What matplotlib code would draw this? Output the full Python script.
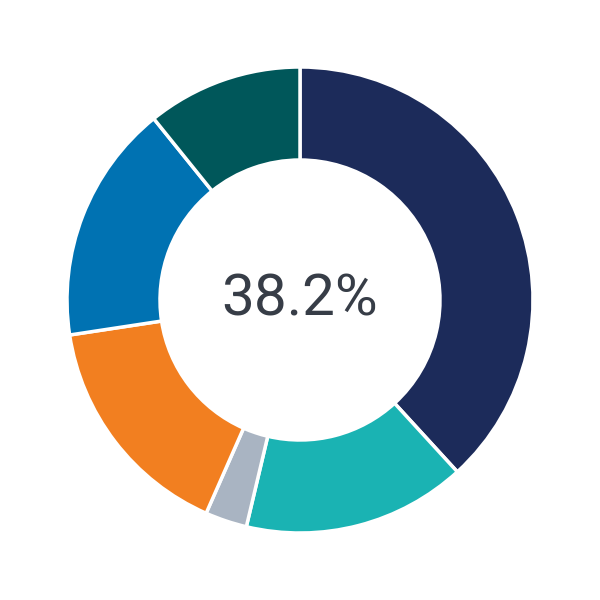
import matplotlib.pyplot as plt

# slice shares, clockwise from 12 o'clock
shares = [38.2, 15.5, 2.9, 16.0, 16.6, 10.8]
colors = ['#1c2b5a', '#1ab3b3', '#a9b4c2', '#f27f20', '#0072b2', '#00575a']
center_label = '38.2%'

fig = plt.figure(figsize=(6, 6), dpi=100)
ax = fig.add_axes([0, 0, 1, 1])

ax.pie(shares, colors=colors, startangle=90, counterclock=False,
       radius=2.33, wedgeprops=dict(width=0.93, edgecolor='white', linewidth=2.5))

ax.text(0, 0, center_label, ha='center', va='center', fontsize=42,
        family='Roboto', color='#373d47')

ax.set_xlim(-3, 3)
ax.set_ylim(-3, 3)
ax.set_aspect('equal')
ax.axis('off')

plt.savefig('out.png')
